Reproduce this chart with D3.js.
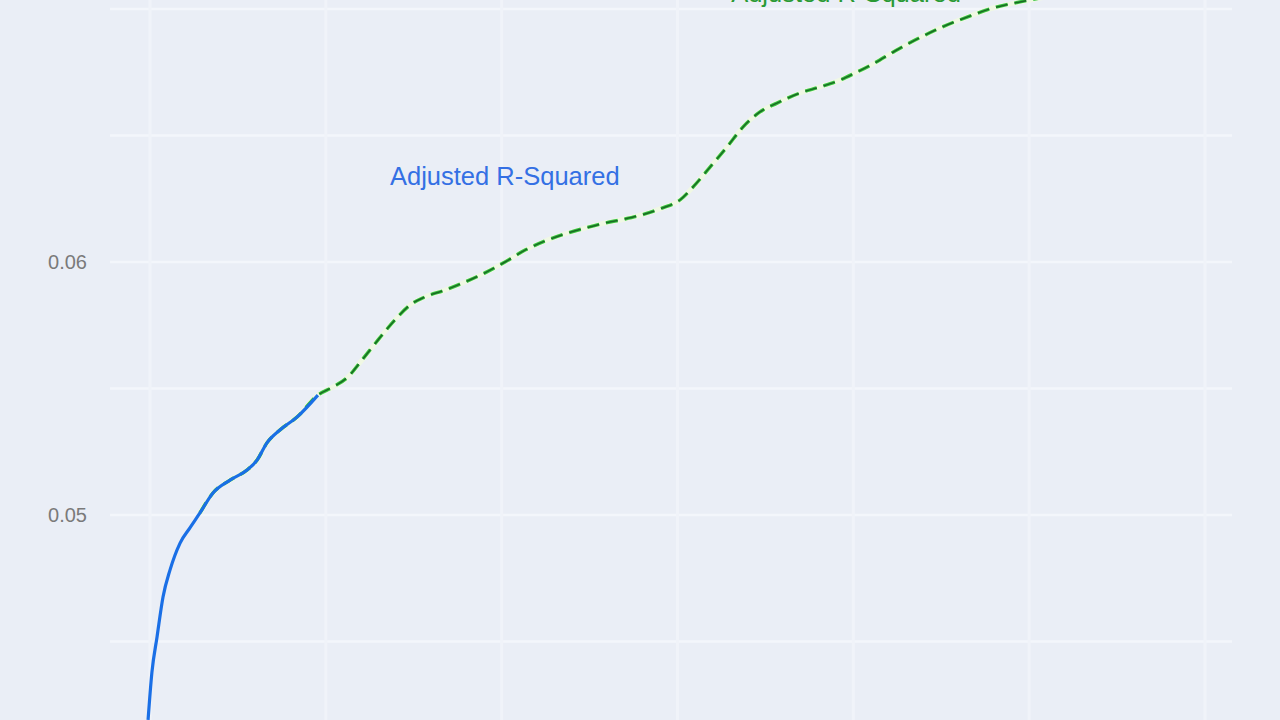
<!DOCTYPE html>
<html><head><meta charset="utf-8">
<script src="https://cdn.jsdelivr.net/npm/d3@7"></script>
<style>html,body{margin:0;padding:0;background:#e9eef6;overflow:hidden}</style>
</head><body><svg id="c" width="1280" height="720"></svg>
<script>
// ---- data ----
const blueX = [-0.011,0.011,0.040,0.074,0.114,0.171,0.227,0.284,0.358,0.455,0.552,0.609,0.665,0.739,0.836,0.955];
const blueY = [0.04190,0.04379,0.04518,0.04676,0.04783,0.04889,0.04949,0.05008,0.05087,0.05138,0.05178,0.05217,0.05285,0.05336,0.05387,0.05474];
const greenX = [0.284,0.358,0.455,0.552,0.609,0.665,0.739,0.836,0.955,1.041,1.120,1.206,1.297,1.393,1.479,1.564,1.678,1.792,1.905,2.019,2.133,2.247,2.360,2.474,2.588,2.701,2.815,2.912,3.014,3.088,3.185,3.282,3.373,3.469,3.566,3.697,3.811,3.924,4.010,4.112,4.237,4.351,4.493,4.647,4.794,4.948,5.090];
const greenY = [0.05008,0.05087,0.05138,0.05178,0.05217,0.05285,0.05336,0.05387,0.05474,0.05506,0.05542,0.05613,0.05692,0.05771,0.05830,0.05862,0.05889,0.05921,0.05957,0.06000,0.06047,0.06083,0.06111,0.06134,0.06154,0.06170,0.06190,0.06213,0.06245,0.06296,0.06375,0.06455,0.06534,0.06593,0.06628,0.06668,0.06692,0.06719,0.06747,0.06783,0.06834,0.06877,0.06925,0.06968,0.07004,0.07028,0.07047];
const yTickLabels = [0.05, 0.06];
const yGridValues = [0.045, 0.05, 0.055, 0.06, 0.065, 0.07];
const xGridValues = [0, 1, 2, 3, 4, 5, 6];
const seriesNames = ["Adjusted R-Squared", "Adjusted R-Squared"];

// ---- chart ----
const svg = d3.select("#c");
const x = d3.scaleLinear().domain([0, 6]).range([150, 1205]);
const y = d3.scaleLinear().domain([0.05, 0.06]).range([515, 262]);

svg.append("rect").attr("width",1280).attr("height",720).attr("fill","#eaeef6");

const grid = svg.append("g");
grid.selectAll("line.h").data(yGridValues).join("line")
  .attr("x1",110).attr("x2",1232)
  .attr("y1",d=>y(d)).attr("y2",d=>y(d))
  .attr("stroke","#f3f6fb").attr("stroke-width",2.5);
grid.selectAll("line.v").data(xGridValues).join("line")
  .attr("x1",d=>x(d)).attr("x2",d=>x(d))
  .attr("y1",0).attr("y2",720)
  .attr("stroke","#f0f3f9").attr("stroke-width",3);

const yAxis = d3.axisLeft(y).tickValues(yTickLabels).tickFormat(d3.format(".2f")).tickSize(0).tickPadding(0);
const ag = svg.append("g").attr("transform","translate(87,0)").call(yAxis);
ag.select(".domain").remove();
ag.selectAll("text").attr("fill","#7a7a7a").attr("font-family","Liberation Sans, Arial, sans-serif").attr("font-size",20);

const line = d3.line().x(d=>x(d[0])).y(d=>y(d[1])).curve(d3.curveMonotoneX);
const gData = d3.zip(greenX, greenY);
const bData = d3.zip(blueX, blueY);

svg.append("path").attr("d",line(gData)).attr("fill","none")
  .attr("stroke","#f0f8e4").attr("stroke-width",5).attr("stroke-linecap","round");
svg.append("path").attr("d",line(gData)).attr("fill","none")
  .attr("stroke","#36c040").attr("stroke-width",3.4).attr("stroke-dasharray","12,7");
svg.append("path").attr("d",line(gData)).attr("fill","none")
  .attr("stroke","#1a6a22").attr("stroke-width",1.5).attr("stroke-dasharray","12,7");
svg.append("path").attr("d",line(bData)).attr("fill","none")
  .attr("stroke","#1a6fe6").attr("stroke-width",3.2);

svg.append("text").attr("x",390).attr("y",185).text(seriesNames[0])
  .attr("fill","#3470e4").attr("font-family","Liberation Sans, Arial, sans-serif").attr("font-size",25.5);
svg.append("text").attr("x",846).attr("y",2).attr("text-anchor","middle").text(seriesNames[1])
  .attr("fill","#2a9a34").attr("font-family","Liberation Sans, Arial, sans-serif").attr("font-size",25.5);
</script></body></html>
